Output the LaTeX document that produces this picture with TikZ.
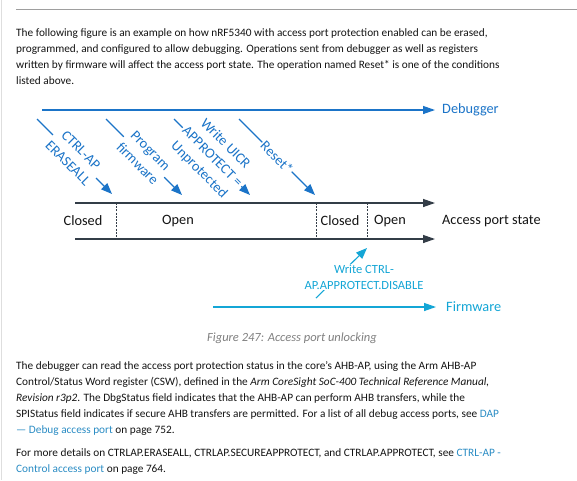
\documentclass[tikz,border=0pt]{standalone}
\usepackage{fontspec}
\setmainfont{Carlito}
\usetikzlibrary{arrows.meta,calc}
\definecolor{dbg}{HTML}{1B74C8}
\definecolor{fw}{HTML}{14A6D6}
\definecolor{lnk}{HTML}{2A8CC4}
\definecolor{axis}{HTML}{333D47}
\definecolor{txt}{HTML}{141414}
\definecolor{cap}{HTML}{808080}
\begin{document}
\begin{tikzpicture}[x=1pt,y=-1pt,
  para/.style={anchor=base west,inner sep=0,text=txt,font=\fontsize{11.3}{16}\selectfont},
  lbl/.style={inner sep=0,text=txt,font=\fontsize{14.3}{17}\selectfont},
  diag/.style={inner sep=2pt,text=dbg,rotate=-45,align=center,font=\fontsize{14.3}{18.5}\selectfont},
  dline/.style={draw=dbg,line width=1.1pt},
  tip/.style={-{Triangle[length=11pt,width=8.5pt]}},
  axisline/.style={draw=axis,line width=1.3pt,-{Triangle[length=12pt,width=8pt]}},
  sep/.style={draw=axis,line width=1pt,dash pattern=on 2pt off 1.2pt}]
\useasboundingbox (0,0) rectangle (577,480);
\fill[white] (0,0) rectangle (577,480);
\draw[draw=black!13,line width=0.8pt] (1,0) -- (1,480);
\draw[draw=black!38,line width=1pt] (16,9.3) -- (577,9.3);
% paragraph 1
\node[para] (p1a) at (16,36.5) {The following figure is an example on how nRF5340 with access port protection enabled can be erased,};
\node[para] (p1b) at (16,52.5) {programmed, and configured to allow debugging. Operations sent from debugger as well as registers};
\node[para] (p1c) at (16,68.5) {written by firmware will affect the access port state. The operation named Reset* is one of the conditions};
\node[para] (p1d) at (16,84.5) {listed above.};
% debugger axis
\coordinate (d0) at (42,110);
\coordinate (d1) at (435,110);
\draw[dbg,line width=1.3pt,-{Triangle[length=12pt,width=8pt]}] (d0) -- (d1);
\node[lbl,text=dbg,anchor=west] (dbgl) at (442,110) {Debugger};
% diagonal debugger operations
\coordinate (s1) at (37,119);  \coordinate (t1) at (112,194);
\coordinate (s2) at (106,119); \coordinate (t2) at (182,195);
\coordinate (s3) at (174,119); \coordinate (t3) at (250,195);
\coordinate (s4) at (239,119); \coordinate (t4) at (315,195);
\node[diag] (o1) at ($(s1)!0.5!(t1)$) {CTRL-AP\\ERASEALL};
\node[diag] (o2) at ($(s2)!0.5!(t2)$) {Program\\firmware};
\node[diag] (o3) at ($(s3)!0.5!(t3)$) {Write UICR\\APPROTECT =\\Unprotected};
\node[diag,inner sep=1pt] (o4) at ($(s4)!0.5!(t4)$) {Reset*};
\foreach \i in {1,2,3,4}{
  \draw[dline] (s\i) -- (o\i);
  \draw[dline,tip] (o\i) -- (t\i);
}
% access port state
\coordinate (a0) at (75,203); \coordinate (a1) at (435,203);
\coordinate (b0) at (75,239); \coordinate (b1) at (435,239);
\draw[axisline] (a0) -- (a1);
\draw[axisline] (b0) -- (b1);
\coordinate (v1t) at (116,203); \coordinate (v1b) at (116,239);
\coordinate (v2t) at (316,203); \coordinate (v2b) at (316,239);
\coordinate (v3t) at (367,203); \coordinate (v3b) at (367,239);
\draw[sep] (v1t) -- (v1b);
\draw[sep] (v2t) -- (v2b);
\draw[sep] (v3t) -- (v3b);
\node[lbl] (st1) at (83,221) {Closed};
\node[lbl] (st2) at (178,221) {Open};
\node[lbl] (st3) at (340,221) {Closed};
\node[lbl] (st4) at (390,221) {Open};
\node[lbl,anchor=west] (apl) at (442,221) {Access port state};
% firmware
\coordinate (f0) at (213,307); \coordinate (f1) at (436,307);
\draw[fw,line width=1.3pt,-{Triangle[length=12pt,width=8pt]}] (f0) -- (f1);
\node[lbl,text=fw,anchor=west] (fwl) at (446,307) {Firmware};
\coordinate (ws) at (316,298); \coordinate (wt) at (367,248);
\draw[draw=fw,line width=1.1pt,tip] (ws) -- (wt);
\node[fill=white,inner sep=1pt,text=fw,align=center,font=\fontsize{12.5}{16}\selectfont] (wl) at (364,277) {Write CTRL-\\AP.APPROTECT.DISABLE};
% caption
\node[inner sep=0,text=cap,font=\fontsize{12.5}{15}\selectfont\itshape] (capt) at (292,338) {Figure 247: Access port unlocking};
% paragraph 2
\node[para] (p2a) at (16,369.5) {The debugger can read the access port protection status in the core's AHB-AP, using the Arm AHB-AP};
\node[para] (p2b) at (16,385.5) {Control/Status Word register (CSW), defined in the \textit{Arm CoreSight SoC-400 Technical Reference Manual,}};
\node[para] (p2c) at (16,401.5) {\textit{Revision r3p2}. The DbgStatus field indicates that the AHB-AP can perform AHB transfers, while the};
\node[para] (p2d) at (16,417.5) {SPIStatus field indicates if secure AHB transfers are permitted. For a list of all debug access ports, see \textcolor{lnk}{DAP}};
\node[para] (p2e) at (16,433.5) {\textcolor{lnk}{— Debug access port} on page 752.};
% paragraph 3
\node[para] (p3a) at (16,456.5) {For more details on CTRLAP.ERASEALL, CTRLAP.SECUREAPPROTECT, and CTRLAP.APPROTECT, see \textcolor{lnk}{CTRL-AP -}};
\node[para] (p3b) at (16,472.5) {\textcolor{lnk}{Control access port} on page 764.};
\end{tikzpicture}
\end{document}
